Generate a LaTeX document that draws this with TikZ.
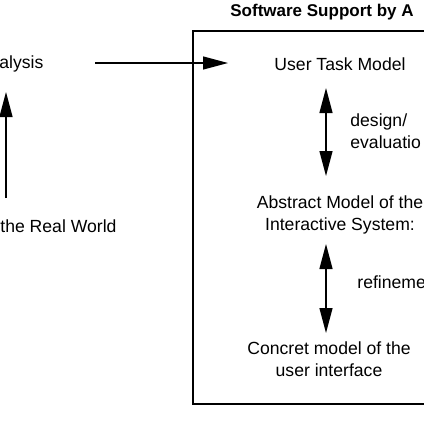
\documentclass[tikz,border=0pt]{standalone}
\usepackage{fontspec}
\setmainfont{Liberation Sans}
\usetikzlibrary{arrows.meta,positioning}

\begin{document}
\begin{tikzpicture}[
		x=0.5pt, y=-0.5pt,
		modeltext/.style={
			align=center,
			inner sep=0pt,
			font=\fontsize{8.8}{11}\selectfont
		},
		sidetext/.style={
			anchor=west,
			align=left,
			inner sep=0pt,
			font=\fontsize{8.8}{11}\selectfont
		},
		flowarrow/.style={
			-{Triangle[length=12.5pt,width=6.5pt]},
			line width=0.65pt
		},
		twowayarrow/.style={
			{Triangle[length=12.5pt,width=6.5pt]}-{Triangle[length=12.5pt,width=6.5pt]},
			line width=0.65pt
		}
	]
	
	\path[use as bounding box, clip] (0,0) rectangle (424,424);
	
	% left side
	\node[sidetext] (analysis) at (-1,64) {alysis};
	\node[sidetext] (realworld) at (0,226) {the Real World};
	
	% software side
	\node[sidetext,font=\bfseries\fontsize{8.5}{11}\selectfont] (support) at (230,12) {Software Support by A};
	\draw[line width=0.65pt] (430,31) -- (193,31) -- (193,404) -- (430,404);
	
	\node[modeltext] (task) at (340,64) {User Task Model};
	\node[modeltext] (abstract) at (340,215) {Abstract Model of the\\Interactive System:};
	\node[modeltext] (concrete) at (329,359) {Concret model of the\\user interface};
	
	\node[sidetext] (design) at (350,131) {design/\\evaluatio};
	\node[sidetext] (refine) at (357,282) {refineme};
	
	\draw[flowarrow] ([shift={(6,-28)}]realworld.west) -- ([shift={(7,28)}]analysis.west);
	\draw[flowarrow] ([shift={(96,-1)}]analysis.west) -- ([shift={(-112,-1)}]task.center);
	\draw[twowayarrow] ([shift={(-14,24)}]task.center) -- ([shift={(-14,-39)}]abstract.center);
	\draw[twowayarrow] ([shift={(-14,29)}]abstract.center) -- ([shift={(-3,-26)}]concrete.center);
	
\end{tikzpicture}
\end{document}
